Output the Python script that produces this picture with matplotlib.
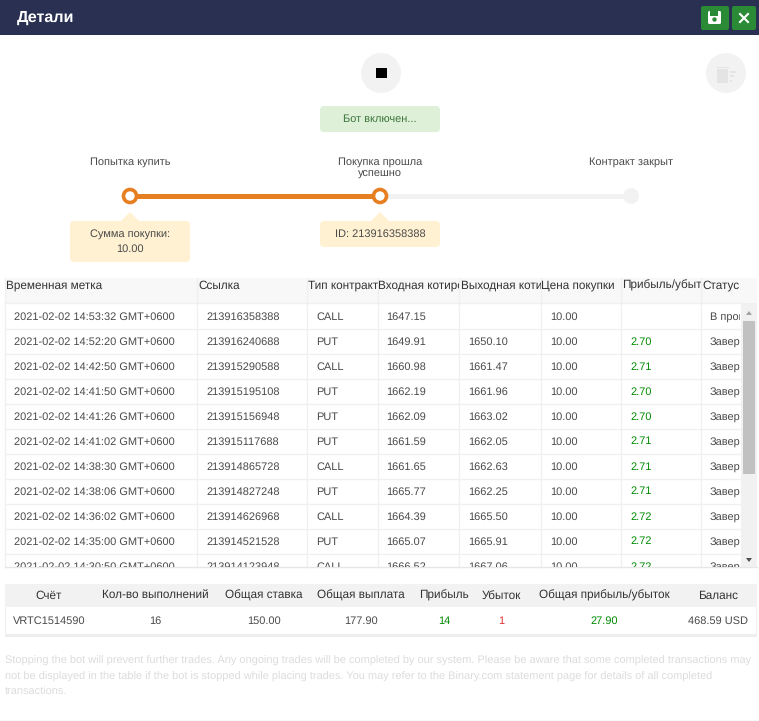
#!/usr/bin/env python3
#
# Bot details panel, drawn on one axes in pixel coordinates.

import matplotlib as mpl
mpl.use('agg')
import matplotlib.pyplot as plt
from matplotlib.patches import Rectangle, FancyBboxPatch, Circle, Polygon

plt.rcParams['font.family'] = ['Liberation Sans', 'DejaVu Sans']
plt.rcParams['text.hinting'] = 'none'

headers = ['Временная метка', 'Ссылка', 'Тип контракта', 'Входная котировка',
           'Выходная котировка', 'Цена покупки', 'Прибыль/убыток', 'Статус']
times = ['2021-02-02 14:53:32 GMT+0600', '2021-02-02 14:52:20 GMT+0600',
         '2021-02-02 14:42:50 GMT+0600', '2021-02-02 14:41:50 GMT+0600',
         '2021-02-02 14:41:26 GMT+0600', '2021-02-02 14:41:02 GMT+0600',
         '2021-02-02 14:38:30 GMT+0600', '2021-02-02 14:38:06 GMT+0600',
         '2021-02-02 14:36:02 GMT+0600', '2021-02-02 14:35:00 GMT+0600',
         '2021-02-02 14:30:50 GMT+0600']
refs = ['213916358388', '213916240688', '213915290588', '213915195108',
        '213915156948', '213915117688', '213914865728', '213914827248',
        '213914626968', '213914521528', '213914123948']
types = ['CALL', 'PUT', 'CALL', 'PUT', 'PUT', 'PUT', 'CALL', 'PUT', 'CALL', 'PUT', 'CALL']
entry = ['1647.15', '1649.91', '1660.98', '1662.19', '1662.09', '1661.59',
         '1661.65', '1665.77', '1664.39', '1665.07', '1666.52']
exits = ['', '1650.10', '1661.47', '1661.96', '1663.02', '1662.05',
         '1662.63', '1662.25', '1665.50', '1665.91', '1667.06']
price = ['10.00'] * 11
profit = ['', '2.70', '2.71', '2.70', '2.70', '2.71', '2.71', '2.71', '2.72', '2.72', '2.72']
status = ['В процессе'] + ['Завершено'] * 10

summary_head = ['Счёт', 'Кол-во выполнений', 'Общая ставка', 'Общая выплата',
                'Прибыль', 'Убыток', 'Общая прибыль/убыток', 'Баланс']
summary_vals = ['VRTC1514590', '16', '150.00', '177.90', '14', '1', '27.90', '468.59 USD']

notice = ['Stopping the bot will prevent further trades. Any ongoing trades will be completed by our system. Please be aware that some completed transactions may',
          'not be displayed in the table if the bot is stopped while placing trades. You may refer to the Binary.com statement page for details of all completed',
          'transactions.']

navy = '#2a3052'
green_btn = '#2a8a36'
orange = '#e67e22'
grey = '#f2f2f2'
cream = '#fff1d1'
text_col = '#4a4a4a'
green_txt = '#008a00'
fs = 7.9
head_fs = 8.5

fig = plt.figure(figsize=(7.59, 7.21), dpi=100)
ax = fig.add_axes([0, 0, 1, 1])
ax.set_xlim(0, 759)
ax.set_ylim(721, 0)
ax.axis('off')


def rect(x0, y0, x1, y1, col, z=1):
    ax.add_patch(Rectangle((x0, y0), x1 - x0, y1 - y0, fc=col, ec='none', zorder=z))


def rbox(x0, y0, x1, y1, col, r=4, z=1):
    ax.add_patch(FancyBboxPatch((x0 + r, y0 + r), x1 - x0 - 2*r, y1 - y0 - 2*r,
                                boxstyle='round,pad={},rounding_size={}'.format(r, r),
                                fc=col, ec='none', zorder=z))


def label(x, y, s, col=text_col, ha='center', size=fs, **kw):
    # baseline placement, so words with and without descenders stay level
    return ax.text(x, y + 3, s, color=col, ha=ha, va='baseline', fontsize=size, zorder=5, **kw)


def clipped(x, y, s, x1, y1, col=text_col, size=fs):
    # text cut off at the cell edge, as the browser does
    t = label(x, y, s, col=col, ha='left', size=size)
    t.set_clip_path(Rectangle((0, 270), x1, y1 - 270, transform=ax.transData))
    t.set_clip_on(True)


# Title bar.

rect(0, 0, 759, 35, navy)
label(17, 19, 'Детали', col='white', ha='left', size=11.6, fontweight='bold')
rbox(701, 6, 729, 30, green_btn, r=2, z=2)
rbox(732, 6, 756, 30, green_btn, r=2, z=2)
rbox(708, 11, 721, 24, 'white', r=1.5, z=3)
rect(710, 11, 718, 15.5, green_btn, z=4)
ax.add_patch(Circle((714.5, 19.5), 2.2, fc=green_btn, ec='none', zorder=4))
ax.plot([740, 748], [14, 22], color='white', lw=1.5, zorder=4)
ax.plot([740, 748], [22, 14], color='white', lw=1.5, zorder=4)

# Stop and clear buttons.

ax.add_patch(Circle((381, 73), 20, fc=grey, ec='none'))
rect(375.5, 68, 386.5, 78, 'black', z=3)
ax.add_patch(Circle((726, 73), 20, fc=grey, ec='none'))
rect(717, 69, 728, 83, '#e4e4e4', z=3)
rect(716, 66.5, 729, 68, '#e4e4e4', z=3)
for yy, x1 in zip([70.5, 75, 79.5], [736, 734, 732]):
    rect(729.5, yy, x1, yy + 2, '#e4e4e4', z=3)

rbox(320, 106, 440, 132, '#dff0d8', r=4)
label(380, 119, 'Бот включен...', col='#3c763d')

# Progress steps.

label(130, 162, 'Попытка купить')
label(380, 162, 'Покупка прошла')
label(380, 174, 'успешно')
label(631, 162, 'Контракт закрыт')
ax.plot([380, 631], [196, 196], color=grey, lw=3.6, solid_capstyle='butt', zorder=2)
ax.plot([130, 380], [196, 196], color=orange, lw=3.6, solid_capstyle='butt', zorder=2)
ax.add_patch(Circle((631, 196), 8, fc=grey, ec='none', zorder=3))
for cx in [130, 380]:
    ax.add_patch(Circle((cx, 196), 6.5, fc='white', ec=orange, lw=2.6, zorder=3))

rbox(70, 221, 190, 262, cream, r=4)
ax.add_patch(Polygon([[120, 222], [130, 212], [140, 222]], fc=cream, ec='none'))
label(130, 234, 'Сумма покупки:')
label(130, 249, '10.00')
rbox(320, 221, 440, 247, cream, r=4)
ax.add_patch(Polygon([[370, 222], [380, 212], [390, 222]], fc=cream, ec='none'))
label(380, 234, 'ID: 213916358388')

# Trades table.

col_x = [5, 197, 307, 378, 459, 541, 621, 701, 740]
head_x = [6, 198, 308, 378, 461, 541, 622, 702]
cell_x = [14, 206, 316, 386, 468, 550, 630, 710]
columns = [times, refs, types, entry, exits, price, profit, status]

rect(5, 278, 757, 303, '#f8f8f8')
for i, h in enumerate(headers):
    x1 = col_x[i + 1] if i < 7 else 757
    clipped(head_x[i], 286, h, x1, 303, col='#333333', size=head_fs)
    for j, v in enumerate(columns[i]):
        col = green_txt if i == 6 else text_col
        clipped(cell_x[i], 316.5 + 25*j, v, col_x[i + 1], 566.5, col=col)

for j in range(10):
    ax.plot([5, 741], [328.5 + 25*j, 328.5 + 25*j], color='#f0f0f0', lw=1, zorder=2)
ax.plot([5, 741], [303, 303], color='#f0f0f0', lw=1, zorder=2)
for x in col_x[:8]:
    ax.plot([x, x], [278, 567], color='#f0f0f0', lw=1, zorder=2)
ax.plot([5, 757], [567, 567], color='#e6e6e6', lw=1, zorder=2)

rect(741, 303, 757, 567, '#f1f1f1', z=3)
rect(743, 321, 755, 474, '#c1c1c1', z=4)
ax.add_patch(Polygon([[746, 315], [749, 311], [752, 315]], fc='#a3a3a3', ec='none', zorder=4))
ax.add_patch(Polygon([[746, 558], [749, 562], [752, 558]], fc='#505050', ec='none', zorder=4))

# Summary table.

sum_x = [49, 155, 264, 361, 444, 501, 604, 718]
sum_col = [text_col, text_col, text_col, text_col, green_txt, '#e03030', green_txt, text_col]
rect(5, 584, 757, 607, grey)
rect(5, 607, 757, 637, '#eeeeee')
rect(6, 607, 756, 634, 'white', z=2)
for x, h, v, c in zip(sum_x, summary_head, summary_vals, sum_col):
    label(x, 596, h, col='#333333', size=head_fs)
    label(x, 621, v, col=c)

# Notice.

for y, line in zip([661, 677, 692], notice):
    label(5, y, line, col='#dcdcdc', ha='left')
ax.plot([0, 759], [720.5, 720.5], color='#e0e0e0', lw=1)

fig.savefig('out.png', dpi=100)
